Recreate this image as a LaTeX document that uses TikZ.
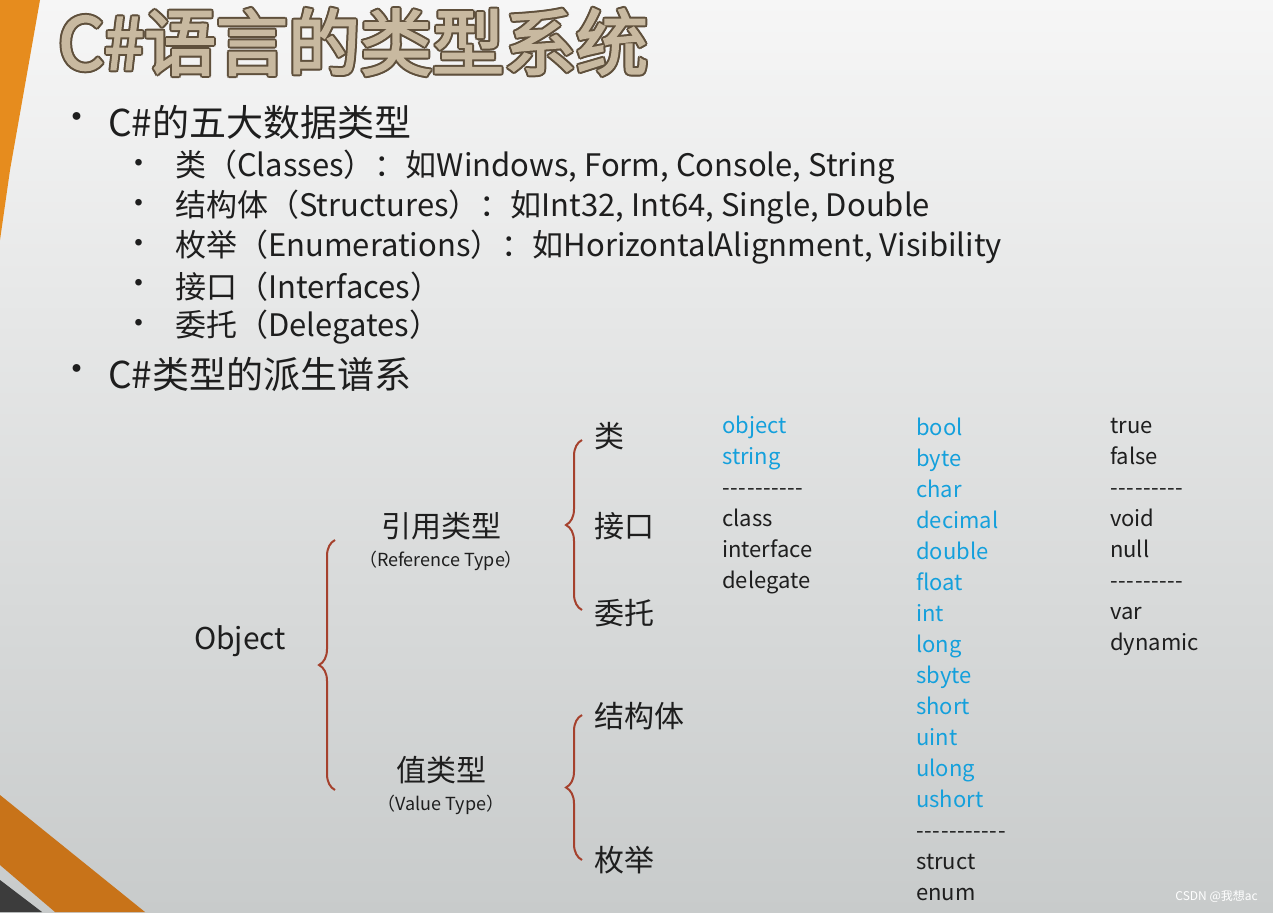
\documentclass[tikz,border=0pt]{standalone}
\usepackage{fontspec}
\setmainfont{Noto Sans CJK SC}
\newfontfamily\titlefont[FakeBold=2.5]{Noto Sans CJK SC}
\usetikzlibrary{decorations.pathreplacing}
\definecolor{kw}{RGB}{20,160,220}
\definecolor{br}{RGB}{165,65,45}
\definecolor{org}{RGB}{230,140,30}
\definecolor{org2}{RGB}{200,115,25}
\definecolor{dk}{RGB}{60,60,60}
\definecolor{bgb}{RGB}{200,203,203}
\definecolor{bgt}{RGB}{246,246,246}
\definecolor{tan}{RGB}{200,185,160}
\definecolor{tdark}{RGB}{95,80,60}
\definecolor{txt}{RGB}{30,30,30}
\newcommand{\dsh}[1]{\foreach \i in {1,...,#1}{\kern0.5pt-}}
\tikzset{
  bul/.style={anchor=west,inner sep=0pt,text=txt,font=\fontsize{37}{39}\selectfont},
  sub/.style={anchor=west,inner sep=0pt,text=txt,font=\fontsize{31}{33}\selectfont},
  lab/.style={inner sep=0pt,text=txt,font=\fontsize{30}{32}\selectfont},
  small/.style={inner sep=0pt,text=txt,font=\fontsize{18}{20}\selectfont},
  col/.style={anchor=north west,inner sep=0pt,text=txt,font=\fontsize{22}{31}\selectfont,align=left},
  brace/.style={draw=br,line width=2pt,decorate,decoration={brace,amplitude=16pt,mirror}},
}
\begin{document}
\begin{tikzpicture}[x=1pt,y=-1pt]
\useasboundingbox (0,0) rectangle (1273,912);
\shade[top color=bgt,bottom color=bgb] (0,0) rectangle (1273,912);
% orange strips
\fill[org] (0,0) -- (40,0) -- (10,170) -- (0,240) -- cycle;
\fill[org2] (0,795) -- (145,912) -- (55,912) -- (0,865) -- cycle;
\fill[dk] (0,880) -- (42,912) -- (0,912) -- cycle;
% title
\foreach \dx/\dy in {-2/0,2/0,0/-2,0/2,-1.5/-1.5,1.5/1.5,-1.5/1.5,1.5/-1.5}
  \node[anchor=west,inner sep=0pt,text=tdark,font=\titlefont\fontsize{72}{74}\selectfont] at (58+\dx,42+\dy) {C\#语言的类型系统};
\node[anchor=west,inner sep=0pt,text=tan,font=\titlefont\fontsize{72}{74}\selectfont] (title) at (58,42) {C\#语言的类型系统};
% bullets
\node[bul] (b1d) at (58,122) {•};
\node[bul] (b1) at (108,122) {C\#的五大数据类型};
\node[sub] (s1d) at (123,167) {•};
\node[sub] (s1) at (175,167) {类（Classes）：如Windows, Form, Console, String};
\node[sub] (s2d) at (123,207) {•};
\node[sub] (s2) at (175,207) {结构体（Structures）：如Int32, Int64, Single, Double};
\node[sub] (s3d) at (123,247) {•};
\node[sub] (s3) at (175,247) {枚举（Enumerations）：如HorizontalAlignment, Visibility};
\node[sub] (s4d) at (123,287) {•};
\node[sub] (s4) at (175,287) {接口（Interfaces）};
\node[sub] (s5d) at (123,327) {•};
\node[sub] (s5) at (175,327) {委托（Delegates）};
\node[bul] (b2d) at (58,374) {•};
\node[bul] (b2) at (108,374) {C\#类型的派生谱系};
% tree
\node[lab] (obj) at (240,641) {Object};
\node[lab] (ref) at (441,526) {引用类型};
\node[small] (refe) at (441,561) {（Reference Type）};
\node[lab] (val) at (441,770) {值类型};
\node[small] (vale) at (441,805) {（Value Type）};
\node[lab,anchor=west] (c1) at (594,436) {类};
\node[lab,anchor=west] (c2) at (594,526) {接口};
\node[lab,anchor=west] (c3) at (594,613) {委托};
\node[lab,anchor=west] (c4) at (594,716) {结构体};
\node[lab,anchor=west] (c5) at (594,860) {枚举};
\coordinate (o1) at (335,540); \coordinate (o2) at (335,790);
\draw[brace] (o1) -- (o2);
\coordinate (r1) at (582,440); \coordinate (r2) at (582,610);
\draw[brace] (r1) -- (r2);
\coordinate (v1) at (582,715); \coordinate (v2) at (582,860);
\draw[brace] (v1) -- (v2);
% columns
\node[col] (k1) at (722,416) {\textcolor{kw}{object}\\\textcolor{kw}{string}\\\dsh{10}\\class\\interface\\delegate};
\node[col] (k2) at (916,418) {\textcolor{kw}{bool}\\\textcolor{kw}{byte}\\\textcolor{kw}{char}\\\textcolor{kw}{decimal}\\\textcolor{kw}{double}\\\textcolor{kw}{float}\\\textcolor{kw}{int}\\\textcolor{kw}{long}\\\textcolor{kw}{sbyte}\\\textcolor{kw}{short}\\\textcolor{kw}{uint}\\\textcolor{kw}{ulong}\\\textcolor{kw}{ushort}\\\dsh{11}\\struct\\enum};
\node[col] (k3) at (1110,418) {true\\false\\\dsh{9}\\void\\null\\\dsh{9}\\var\\dynamic};
\node[anchor=east,inner sep=0pt,text=white,font=\fontsize{12}{13}\selectfont] (wm) at (1258,896) {CSDN @我想ac};
\end{tikzpicture}
\end{document}
